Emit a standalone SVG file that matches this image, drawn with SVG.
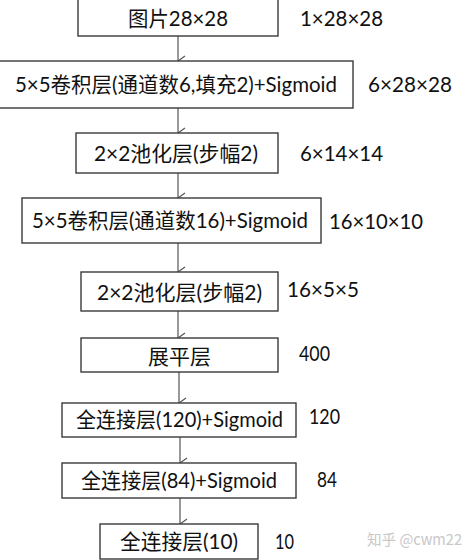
<svg xmlns="http://www.w3.org/2000/svg" width="474" height="560" viewBox="0 0 474 560">
<defs>
<style>
.box{fill:#fff;stroke:#3a3a3a;stroke-width:1.4}
.t{font-family:"Lato","Noto Sans CJK SC",sans-serif;font-size:21px;fill:#111}
.lbl{font-family:"Lato","Noto Sans CJK SC",sans-serif;font-size:21px;fill:#111}
.c{stroke:#555;stroke-width:1.2;fill:none}
.wm{font-family:"Noto Sans CJK SC",sans-serif;font-size:15px;fill:#c8c8c8}
</style>
<marker id="ah" viewBox="0 0 12 10" refX="6" refY="9" markerWidth="12" markerHeight="10" markerUnits="userSpaceOnUse" orient="auto">
<path d="M1,2 L6,9 L11,2" fill="none" stroke="#555" stroke-width="1.2"/>
</marker>
</defs>
<rect width="474" height="560" fill="#fff"/>
<g id="connectors">
<line class="c" x1="178" y1="36" x2="178" y2="61" marker-end="url(#ah)"/>
<line class="c" x1="178" y1="108" x2="178" y2="133" marker-end="url(#ah)"/>
<line class="c" x1="178" y1="173" x2="178" y2="198" marker-end="url(#ah)"/>
<line class="c" x1="178" y1="243" x2="178" y2="272" marker-end="url(#ah)"/>
<line class="c" x1="178" y1="311" x2="178" y2="338" marker-end="url(#ah)"/>
<line class="c" x1="179" y1="372" x2="179" y2="403" marker-end="url(#ah)"/>
<line class="c" x1="180" y1="437" x2="180" y2="463" marker-end="url(#ah)"/>
<line class="c" x1="180" y1="498" x2="180" y2="524" marker-end="url(#ah)"/>
</g>
<g id="n1">
<rect class="box" x="78" y="-10" width="200" height="46"/>
<text class="t" x="128" y="26" textLength="100" lengthAdjust="spacingAndGlyphs">图片28×28</text>
<text class="lbl" x="300" y="26" textLength="83" lengthAdjust="spacingAndGlyphs">1×28×28</text>
</g>
<g id="n2">
<rect class="box" x="-1" y="61" width="354" height="47"/>
<text class="t" x="15" y="92" textLength="322" lengthAdjust="spacingAndGlyphs">5×5卷积层(通道数6,填充2)+Sigmoid</text>
<text class="lbl" x="368" y="92" textLength="84" lengthAdjust="spacingAndGlyphs">6×28×28</text>
</g>
<g id="n3">
<rect class="box" x="76" y="133" width="202" height="40"/>
<text class="t" x="94" y="161" textLength="164" lengthAdjust="spacingAndGlyphs">2×2池化层(步幅2)</text>
<text class="lbl" x="300" y="161" textLength="83" lengthAdjust="spacingAndGlyphs">6×14×14</text>
</g>
<g id="n4">
<rect class="box" x="22" y="198" width="299" height="45"/>
<text class="t" x="32" y="228" textLength="276" lengthAdjust="spacingAndGlyphs">5×5卷积层(通道数16)+Sigmoid</text>
<text class="lbl" x="329" y="229" textLength="94" lengthAdjust="spacingAndGlyphs">16×10×10</text>
</g>
<g id="n5">
<rect class="box" x="81" y="272" width="197" height="39"/>
<text class="t" x="97" y="300" textLength="165" lengthAdjust="spacingAndGlyphs">2×2池化层(步幅2)</text>
<text class="lbl" x="287" y="297" textLength="72" lengthAdjust="spacingAndGlyphs">16×5×5</text>
</g>
<g id="n6">
<rect class="box" x="81" y="338" width="197" height="34"/>
<text class="t" x="148" y="364" textLength="63" lengthAdjust="spacingAndGlyphs">展平层</text>
<text class="lbl" x="299" y="361" textLength="31" lengthAdjust="spacingAndGlyphs">400</text>
</g>
<g id="n7">
<rect class="box" x="62" y="403" width="234" height="34"/>
<text class="t" x="76" y="427" textLength="207" lengthAdjust="spacingAndGlyphs">全连接层(120)+Sigmoid</text>
<text class="lbl" x="309" y="424" textLength="31" lengthAdjust="spacingAndGlyphs">120</text>
</g>
<g id="n8">
<rect class="box" x="62" y="463" width="234" height="35"/>
<text class="t" x="81" y="488" textLength="196" lengthAdjust="spacingAndGlyphs">全连接层(84)+Sigmoid</text>
<text class="lbl" x="317" y="487" textLength="20" lengthAdjust="spacingAndGlyphs">84</text>
</g>
<g id="n9">
<rect class="box" x="100" y="524" width="158" height="35"/>
<text class="t" x="120" y="549" textLength="118" lengthAdjust="spacingAndGlyphs">全连接层(10)</text>
<text class="lbl" x="275" y="549" textLength="19" lengthAdjust="spacingAndGlyphs">10</text>
</g>
<text class="wm" x="367" y="545" textLength="95" lengthAdjust="spacingAndGlyphs">知乎 @cwm22</text>
</svg>
